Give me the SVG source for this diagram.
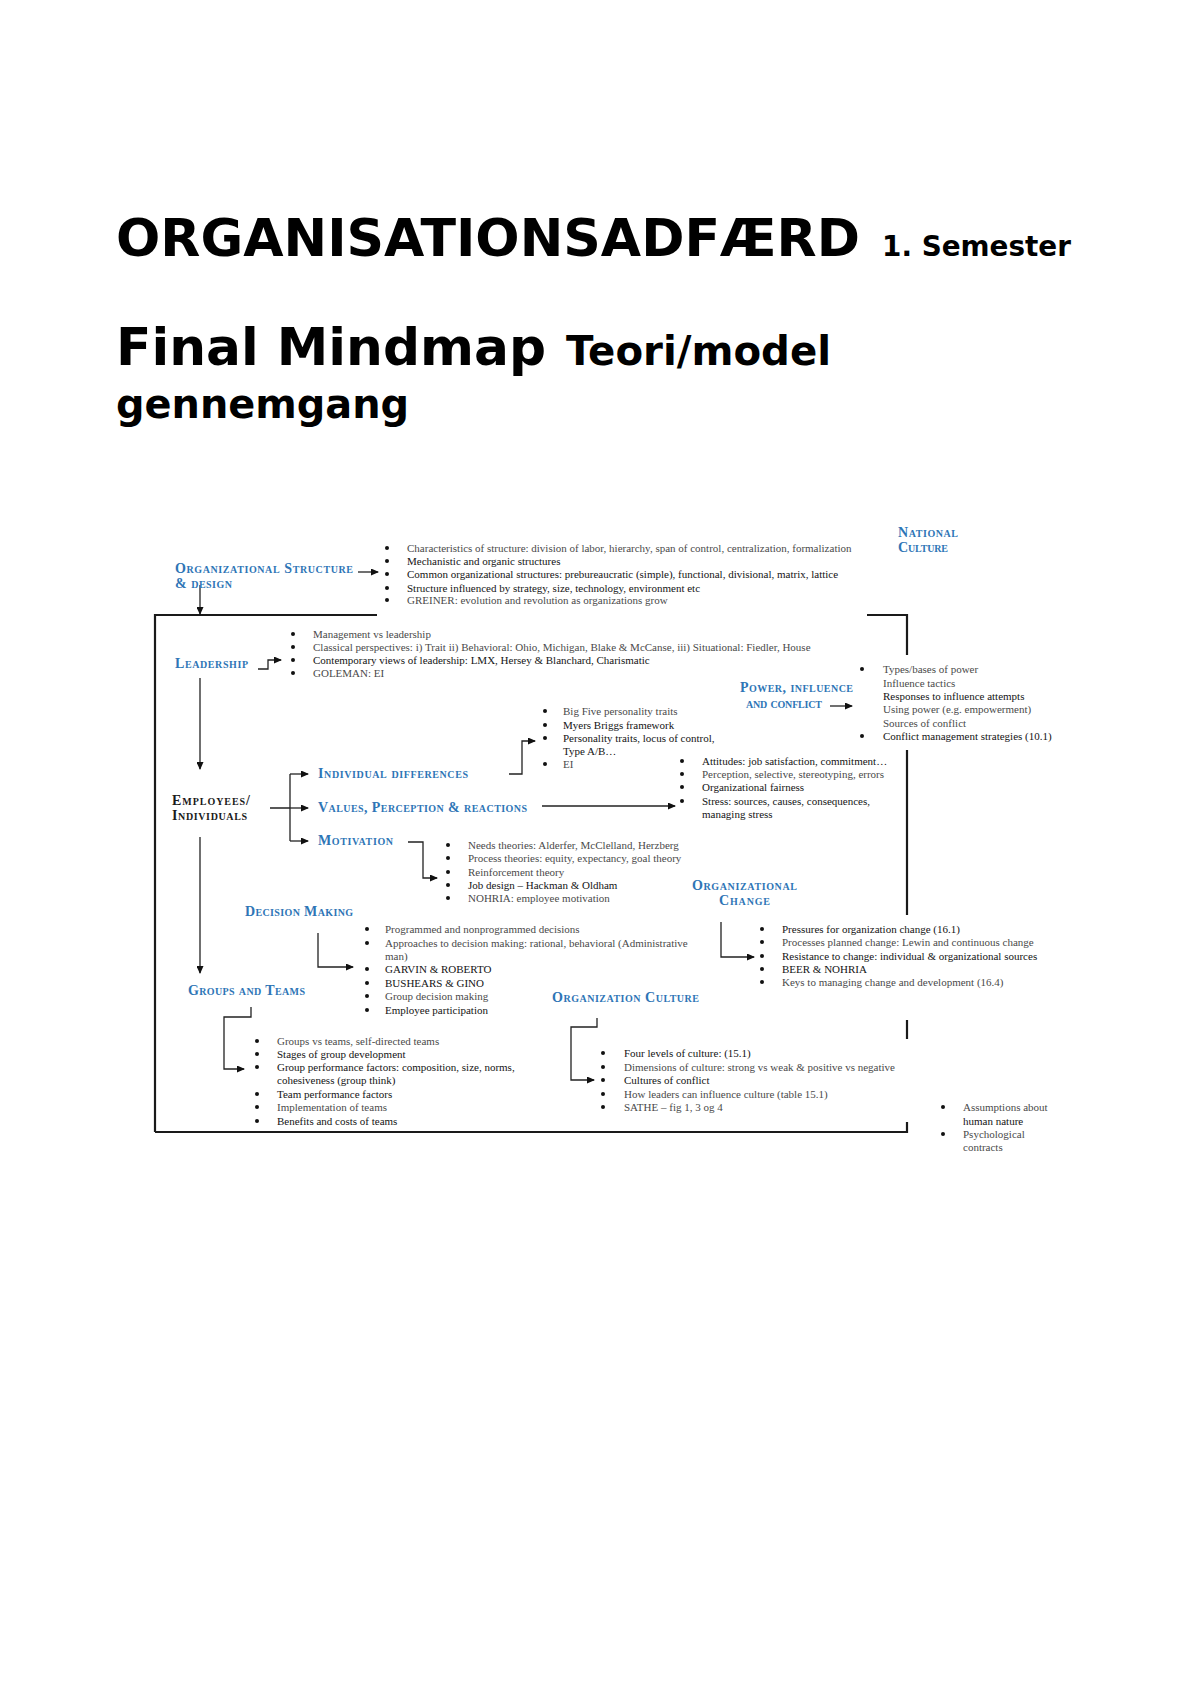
<svg xmlns="http://www.w3.org/2000/svg" width="1200" height="1696" viewBox="0 0 1200 1696">
<style>
.ttl{font-family:"DejaVu Sans",Verdana,sans-serif;font-weight:bold;fill:#000}
.lbl{font-family:"Liberation Serif","Times New Roman",serif;font-weight:bold;font-variant:small-caps;font-size:14px;fill:#2E75B6}
.emp{font-family:"Liberation Serif","Times New Roman",serif;font-weight:bold;font-variant:small-caps;font-size:14px;fill:#1a1a1a}
.b{font-family:"Liberation Serif","Times New Roman",serif;font-size:11px;fill:#141414}
.l{fill:#4a4a4a}
.dot{fill:#111}
.frame{stroke:#1a1a1a;stroke-width:2.2;fill:none}
.conn{stroke:#222;stroke-width:1.3;fill:none}
.arr{marker-end:url(#ah)}
</style>
<defs>
<marker id="ah" markerUnits="userSpaceOnUse" markerWidth="8" markerHeight="7" refX="7" refY="3.5" orient="auto">
<path d="M0,0 L8,3.5 L0,7 z" fill="#111"/>
</marker>
</defs>
<rect width="1200" height="1696" fill="#fff"/>

<g id="title">
<text class="ttl" x="116" y="256" font-size="52" textLength="744" lengthAdjust="spacingAndGlyphs">ORGANISATIONSADFÆRD</text>
<text class="ttl" x="882" y="256" font-size="28" textLength="189" lengthAdjust="spacingAndGlyphs">1. Semester</text>
<text class="ttl" x="116" y="365" font-size="52" textLength="430" lengthAdjust="spacingAndGlyphs">Final Mindmap</text>
<text class="ttl" x="566" y="365" font-size="40" textLength="265" lengthAdjust="spacingAndGlyphs">Teori/model</text>
<text class="ttl" x="116" y="418" font-size="40" textLength="293" lengthAdjust="spacingAndGlyphs">gennemgang</text>
</g>

<g id="frame">
<path class="frame" d="M155,1132 V615 H377"/>
<path class="frame" d="M867,615 H907 V655"/>
<path class="frame" d="M907,750 V915"/>
<path class="frame" d="M907,1020 V1039"/>
<path class="frame" d="M907,1122 V1132 H534"/>
<path class="frame" d="M534,1132 H245" stroke-width="1.5"/>
<path class="frame" d="M245,1132 H155"/>
</g>

<g id="connectors">
<path class="conn arr" d="M200,585 V614"/>
<path class="conn arr" d="M358,572 H378"/>
<path class="conn arr" d="M258,669 H268 V660 H281"/>
<path class="conn arr" d="M200,678 V769"/>
<path class="conn" d="M270,808 H290 M290,774 V841"/>
<path class="conn arr" d="M290,774 H308"/>
<path class="conn arr" d="M290,808 H308"/>
<path class="conn arr" d="M290,841 H308"/>
<path class="conn arr" d="M509,774 H522 V741 H535"/>
<path class="conn arr" d="M542,806 H675" stroke-width="2"/>
<path class="conn arr" d="M408,842 H423 V878 H437"/>
<path class="conn arr" d="M830,706 H852"/>
<path class="conn arr" d="M200,837 V973"/>
<path class="conn arr" d="M318,933 V967 H353"/>
<path class="conn arr" d="M721,922 V957 H754"/>
<path class="conn arr" d="M251,1007 V1017 H224 V1069 H244"/>
<path class="conn arr" d="M597,1018 V1027 H571 V1080 H594" stroke-width="1.8"/>
</g>

<g id="org-structure">
<text class="lbl" x="175" y="573" textLength="178">Organizational Structure</text>
<text class="lbl" x="175" y="588" textLength="57">&amp; design</text>
<g class="dot"><circle cx="387" cy="548" r="2"/><circle cx="387" cy="561" r="2"/><circle cx="387" cy="574" r="2"/><circle cx="387" cy="588" r="2"/><circle cx="387" cy="600" r="2"/></g>
<text class="b l" x="407" y="551.5">Characteristics of structure: division of labor, hierarchy, span of control, centralization, formalization</text>
<text class="b" x="407" y="564.5">Mechanistic and organic structures</text>
<text class="b" x="407" y="577.5">Common organizational structures: prebureaucratic (simple), functional, divisional, matrix, lattice</text>
<text class="b" x="407" y="591.5">Structure influenced by strategy, size, technology, environment etc</text>
<text class="b l" x="407" y="603.5">GREINER: evolution and revolution as organizations grow</text>
</g>

<g id="national-culture">
<text class="lbl" x="898" y="537" textLength="60">National</text>
<text class="lbl" x="898" y="552" textLength="50">Culture</text>
</g>

<g id="leadership">
<text class="lbl" x="175" y="668" textLength="73">Leadership</text>
<g class="dot"><circle cx="293" cy="634" r="2"/><circle cx="293" cy="647" r="2"/><circle cx="293" cy="660" r="2"/><circle cx="293" cy="673" r="2"/></g>
<text class="b l" x="313" y="637.5">Management vs leadership</text>
<text class="b l" x="313" y="650.5">Classical perspectives: i) Trait ii) Behavioral: Ohio, Michigan, Blake &amp; McCanse, iii) Situational: Fiedler, House</text>
<text class="b" x="313" y="663.5">Contemporary views of leadership: LMX, Hersey &amp; Blanchard, Charismatic</text>
<text class="b l" x="313" y="676.5">GOLEMAN: EI</text>
</g>

<g id="power">
<text class="lbl" x="740" y="692" textLength="113">Power, influence</text>
<text class="lbl" x="746" y="708" textLength="76">and conflict</text>
<g class="dot"><circle cx="862" cy="669" r="2"/><circle cx="862" cy="736" r="2"/></g>
<text class="b l" x="883" y="672.5">Types/bases of power</text>
<text class="b l" x="883" y="686.5">Influence tactics</text>
<text class="b" x="883" y="699.5">Responses to influence attempts</text>
<text class="b l" x="883" y="712.5">Using power (e.g. empowerment)</text>
<text class="b l" x="883" y="726.5">Sources of conflict</text>
<text class="b" x="883" y="739.5">Conflict management strategies (10.1)</text>
</g>

<g id="employees">
<text class="emp" x="172" y="805" textLength="78">Employees/</text>
<text class="emp" x="172" y="820" textLength="75">Individuals</text>
</g>

<g id="individual-differences">
<text class="lbl" x="318" y="778" textLength="150">Individual differences</text>
<g class="dot"><circle cx="545" cy="711" r="2"/><circle cx="545" cy="725" r="2"/><circle cx="545" cy="738" r="2"/><circle cx="545" cy="764" r="2"/></g>
<text class="b l" x="563" y="714.5">Big Five personality traits</text>
<text class="b" x="563" y="728.5">Myers Briggs framework</text>
<text class="b" x="563" y="741.5">Personality traits, locus of control,</text>
<text class="b" x="563" y="754.5">Type A/B…</text>
<text class="b l" x="563" y="767.5">EI</text>
</g>

<g id="values">
<text class="lbl" x="318" y="812" textLength="209">Values, Perception &amp; reactions</text>
<g class="dot"><circle cx="682" cy="761" r="2"/><circle cx="682" cy="774" r="2"/><circle cx="682" cy="787" r="2"/><circle cx="682" cy="801" r="2"/></g>
<text class="b" x="702" y="764.5">Attitudes: job satisfaction, commitment…</text>
<text class="b l" x="702" y="777.5">Perception, selective, stereotyping, errors</text>
<text class="b" x="702" y="790.5">Organizational fairness</text>
<text class="b" x="702" y="804.5">Stress: sources, causes, consequences,</text>
<text class="b" x="702" y="817.5">managing stress</text>
</g>

<g id="motivation">
<text class="lbl" x="318" y="845" textLength="75">Motivation</text>
<g class="dot"><circle cx="448" cy="845" r="2"/><circle cx="448" cy="858" r="2"/><circle cx="448" cy="872" r="2"/><circle cx="448" cy="885" r="2"/><circle cx="448" cy="898" r="2"/></g>
<text class="b l" x="468" y="848.5">Needs theories: Alderfer, McClelland, Herzberg</text>
<text class="b l" x="468" y="861.5">Process theories: equity, expectancy, goal theory</text>
<text class="b l" x="468" y="875.5">Reinforcement theory</text>
<text class="b" x="468" y="888.5">Job design – Hackman &amp; Oldham</text>
<text class="b l" x="468" y="901.5">NOHRIA: employee motivation</text>
</g>

<g id="decision-making">
<text class="lbl" x="245" y="916" textLength="108">Decision Making</text>
<g class="dot"><circle cx="367" cy="929" r="2"/><circle cx="367" cy="943" r="2"/><circle cx="367" cy="969" r="2"/><circle cx="367" cy="983" r="2"/><circle cx="367" cy="996" r="2"/><circle cx="367" cy="1010" r="2"/></g>
<text class="b l" x="385" y="932.5">Programmed and nonprogrammed decisions</text>
<text class="b l" x="385" y="946.5">Approaches to decision making: rational, behavioral (Administrative</text>
<text class="b l" x="385" y="959.5">man)</text>
<text class="b" x="385" y="972.5">GARVIN &amp; ROBERTO</text>
<text class="b" x="385" y="986.5">BUSHEARS &amp; GINO</text>
<text class="b l" x="385" y="999.5">Group decision making</text>
<text class="b" x="385" y="1013.5">Employee participation</text>
</g>

<g id="org-change">
<text class="lbl" x="692" y="890" textLength="105">Organizational</text>
<text class="lbl" x="719" y="905" textLength="51">Change</text>
<g class="dot"><circle cx="762" cy="929" r="2"/><circle cx="762" cy="942" r="2"/><circle cx="762" cy="956" r="2"/><circle cx="762" cy="969" r="2"/><circle cx="762" cy="982" r="2"/></g>
<text class="b" x="782" y="932.5">Pressures for organization change (16.1)</text>
<text class="b l" x="782" y="945.5">Processes planned change: Lewin and continuous change</text>
<text class="b" x="782" y="959.5">Resistance to change: individual &amp; organizational sources</text>
<text class="b" x="782" y="972.5">BEER &amp; NOHRIA</text>
<text class="b l" x="782" y="985.5">Keys to managing change and development (16.4)</text>
</g>

<g id="groups">
<text class="lbl" x="188" y="995" textLength="117">Groups and Teams</text>
<g class="dot"><circle cx="257" cy="1041" r="2"/><circle cx="257" cy="1054" r="2"/><circle cx="257" cy="1067" r="2"/><circle cx="257" cy="1094" r="2"/><circle cx="257" cy="1107" r="2"/><circle cx="257" cy="1121" r="2"/></g>
<text class="b l" x="277" y="1044.5">Groups vs teams, self-directed teams</text>
<text class="b" x="277" y="1057.5">Stages of group development</text>
<text class="b" x="277" y="1070.5">Group performance factors: composition, size, norms,</text>
<text class="b" x="277" y="1083.5">cohesiveness (group think)</text>
<text class="b" x="277" y="1097.5">Team performance factors</text>
<text class="b l" x="277" y="1110.5">Implementation of teams</text>
<text class="b" x="277" y="1124.5">Benefits and costs of teams</text>
</g>

<g id="org-culture">
<text class="lbl" x="552" y="1002" textLength="147">Organization Culture</text>
<g class="dot"><circle cx="603" cy="1053" r="2"/><circle cx="603" cy="1067" r="2"/><circle cx="603" cy="1080" r="2"/><circle cx="603" cy="1094" r="2"/><circle cx="603" cy="1107" r="2"/></g>
<text class="b" x="624" y="1056.5">Four levels of culture: (15.1)</text>
<text class="b l" x="624" y="1070.5">Dimensions of culture: strong vs weak &amp; positive vs negative</text>
<text class="b" x="624" y="1083.5">Cultures of conflict</text>
<text class="b l" x="624" y="1097.5">How leaders can influence culture (table 15.1)</text>
<text class="b l" x="624" y="1110.5">SATHE – fig 1, 3 og 4</text>
</g>

<g id="assumptions">
<g class="dot"><circle cx="943" cy="1107" r="2"/><circle cx="943" cy="1134" r="2"/></g>
<text class="b l" x="963" y="1110.5">Assumptions about</text>
<text class="b" x="963" y="1124.5">human nature</text>
<text class="b l" x="963" y="1137.5">Psychological</text>
<text class="b l" x="963" y="1150.5">contracts</text>
</g>
</svg>
